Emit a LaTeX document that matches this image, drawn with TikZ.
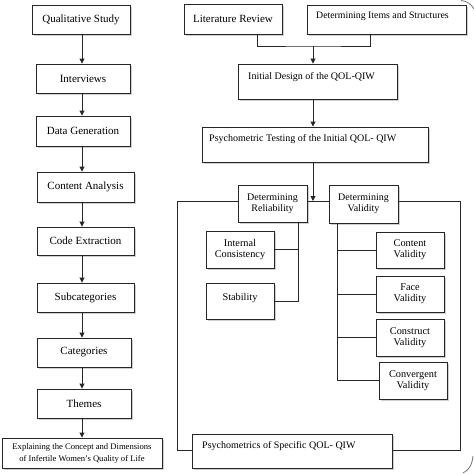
\documentclass[tikz,border=0pt]{standalone}
\usepackage{fontspec}
\setmainfont{Liberation Serif}
\usetikzlibrary{arrows.meta,shadows}
\begin{document}
\begin{tikzpicture}[x=1pt,y=-1pt,
  box/.style={draw=black!85, line width=0.9pt, fill=white, inner sep=0pt, align=center,
    drop shadow={shadow xshift=2pt, shadow yshift=-2pt, opacity=0.3, fill=black!60}},
  big/.style={font=\fontsize{11}{12}\selectfont},
  mid/.style={font=\fontsize{10}{11}\selectfont},
  small/.style={font=\fontsize{10.3}{11.2}\selectfont},
  tiny/.style={font=\fontsize{8.6}{12}\selectfont},
  lbl/.style={inner sep=0pt, anchor=west},
  conn/.style={draw=black!85, line width=0.9pt},
  arr/.style={conn, -{Triangle[length=5pt,width=5pt]}},
  curl/.style={draw=black!55, line width=0.8pt}]
\fill[white] (0,0) rectangle (474,474);
\useasboundingbox (0,0) rectangle (474,474);

% frame around the testing part
\coordinate (fnw) at (177,201);
\coordinate (fse) at (460,450);
\draw[conn] (fnw) rectangle (fse);

% left column
\node[box,big,minimum width=98pt,minimum height=29pt] (q) at (81,19.5) {Qualitative Study};
\node[box,big,minimum width=94pt,minimum height=29pt] (int) at (83,78.5) {Interviews};
\node[box,big,minimum width=94pt,minimum height=30pt] (dg) at (83,131) {Data Generation};
\node[box,big,minimum width=97pt,minimum height=30pt] (ca) at (85.5,187) {Content Analysis};
\node[box,big,minimum width=97pt,minimum height=28pt] (ce) at (85.5,241) {Code Extraction};
\node[box,big,minimum width=97pt,minimum height=29pt] (sc) at (85.5,297.5) {Subcategories};
\node[box,big,minimum width=94pt,minimum height=29pt] (cat) at (84,352.5) {Categories};
\node[box,big,minimum width=94pt,minimum height=29pt] (th) at (84,403.5) {Themes};
\node[box,tiny,minimum width=160pt,minimum height=30pt] (ex) at (82,453) {Explaining the Concept and Dimensions\\of Infertile Women's Quality of Life};

\coordinate (lx) at (82,0);
\draw[arr] (q.south -| lx) -- (int.north -| lx);
\draw[arr] (int.south -| lx) -- (dg.north -| lx);
\draw[arr] (dg.south -| lx) -- (ca.north -| lx);
\draw[arr] (ca.south -| lx) -- (ce.north -| lx);
\draw[arr] (ce.south -| lx) -- (sc.north -| lx);
\draw[arr] (sc.south -| lx) -- (cat.north -| lx);
\draw[arr] (cat.south -| lx) -- (th.north -| lx);
\draw[arr] (th.south -| lx) -- (ex.north -| lx);

% right upper part
\node[box,big,minimum width=98pt,minimum height=30pt] (lr) at (233,19) {Literature Review};
\node[box,minimum width=159pt,minimum height=29pt] (dis) at (386.5,19.5) {};
\node[lbl,anchor=center,font=\fontsize{9.8}{11}\selectfont] (dist) at (382.5,16) {Determining Items and Structures};
\node[box,minimum width=159pt,minimum height=35pt] (id) at (317.5,81.5) {};
\node[lbl,mid] (idt) at (248,77) {Initial Design of the QOL-QIW};
\node[box,minimum width=226pt,minimum height=35pt] (pt) at (315,144.5) {};
\node[lbl,mid] (ptt) at (209,139) {Psychometric Testing of the Initial QOL- QIW};

\coordinate (lrx) at (257,0);
\coordinate (disx) at (370,0);
\coordinate (m) at (313,46);
\coordinate (ftop) at (313,201);
\draw[conn] (lr.south -| lrx) |- (m) -| (dis.south -| disx);
\draw[arr] (m) -- (id.north -| m);
\draw[arr] (id.south -| m) -- (pt.north -| m);
\draw[arr] (pt.south -| m) -- (ftop);

% reliability / validity
\node[box,mid,minimum width=69pt,minimum height=37pt] (dr) at (272.5,203.5) {Determining\\Reliability};
\node[box,mid,minimum width=69pt,minimum height=38pt] (dv) at (363.5,204) {Determining\\Validity};
\node[box,small,minimum width=68pt,minimum height=37pt] (ic) at (240,249.5) {Internal\\Consistency};
\node[box,small,minimum width=68pt,minimum height=36pt,text depth=8pt] (st) at (240,301) {Stability};
\node[box,small,minimum width=68pt,minimum height=36pt] (cv) at (410,250) {Content\\Validity};
\node[box,small,minimum width=68pt,minimum height=36pt] (fv) at (410,294) {Face\\Validity};
\node[box,small,minimum width=68pt,minimum height=37pt] (cov) at (410,337.5) {Construct\\Validity};
\node[box,small,minimum width=68pt,minimum height=37pt] (conv) at (413,380.5) {Convergent\\Validity};

\coordinate (rx) at (298,0);
\coordinate (vx) at (337,0);
\draw[conn] (dr.south -| rx) |- (st.east);
\draw[conn] (ic.east) -- (ic.east -| rx);
\draw[conn] (dv.south -| vx) |- (conv.west);
\draw[conn] (cv.west) -- (cv.west -| vx);
\draw[conn] (fv.west) -- (fv.west -| vx);
\draw[conn] (cov.west) -- (cov.west -| vx);

\node[box,minimum width=200pt,minimum height=34pt] (ps) at (292,451) {};
\node[lbl,mid] (pst) at (202,446) {Psychometrics of Specific QOL- QIW};

% page curls
\coordinate (c1a) at (461,0.5);
\coordinate (c1b) at (474,9);
\draw[curl] (c1a) .. controls (467,1) and (471,4) .. (c1b);
\coordinate (c2a) at (463,473);
\coordinate (c2b) at (473,456);
\draw[curl] (c2a) .. controls (469,470) and (472,465) .. (c2b);
\end{tikzpicture}
\end{document}
